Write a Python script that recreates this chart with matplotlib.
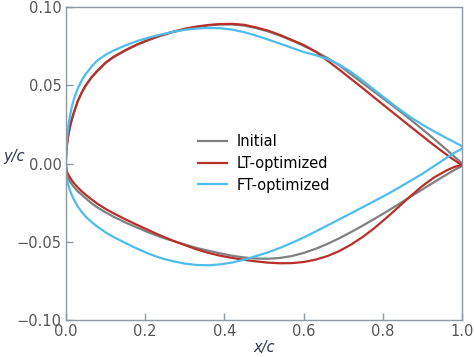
import matplotlib
matplotlib.use("Agg")
import matplotlib.pyplot as plt

x_pts = [0.0, 0.0005, 0.001, 0.002, 0.004, 0.007, 0.01, 0.015, 0.02, 0.03, 0.04, 0.05,
         0.065, 0.08, 0.1, 0.12, 0.15, 0.18, 0.21, 0.24, 0.27, 0.30, 0.33, 0.36,
         0.39, 0.42, 0.45, 0.48, 0.51, 0.54, 0.57, 0.60, 0.63, 0.66, 0.69, 0.72,
         0.75, 0.78, 0.81, 0.84, 0.87, 0.90, 0.93, 0.96, 0.98, 1.0]

init_upper = [0.0, 0.0047, 0.0069, 0.0101, 0.0145, 0.0192, 0.0230, 0.0281, 0.0322, 0.0397, 0.0452, 0.0497,
              0.0550, 0.0592, 0.0642, 0.0679, 0.0722, 0.0759, 0.0790, 0.0817, 0.0840, 0.0859, 0.0873, 0.0883,
              0.0889, 0.0889, 0.0882, 0.0866, 0.0845, 0.0818, 0.0788, 0.0752, 0.0716, 0.0675, 0.0628, 0.0570,
              0.0512, 0.0455, 0.0398, 0.0340, 0.0280, 0.0218, 0.0155, 0.0090, 0.0045, 0.0]
init_lower = [0.0, -0.0028, -0.0040, -0.0056, -0.0078, -0.0098, -0.0113, -0.0133, -0.0150, -0.0178, -0.0200, -0.0222,
              -0.0255, -0.0282, -0.0312, -0.0340, -0.0377, -0.0410, -0.0442, -0.0471, -0.0495, -0.0518, -0.0540, -0.0558,
              -0.0575, -0.0590, -0.0601, -0.0608, -0.0609, -0.0604, -0.0592, -0.0572, -0.0546, -0.0514, -0.0478, -0.0438,
              -0.0396, -0.0352, -0.0307, -0.0260, -0.0212, -0.0165, -0.0118, -0.0072, -0.0042, -0.0015]

lt_upper = [0.0, 0.0050, 0.0072, 0.0104, 0.0148, 0.0195, 0.0233, 0.0284, 0.0325, 0.0400, 0.0455, 0.0500,
            0.0553, 0.0595, 0.0645, 0.0682, 0.0725, 0.0762, 0.0793, 0.0820, 0.0843, 0.0862, 0.0876, 0.0886,
            0.0892, 0.0893, 0.0887, 0.0870, 0.0850, 0.0822, 0.0790, 0.0758, 0.0716, 0.0658, 0.0600, 0.0540,
            0.0480, 0.0418, 0.0357, 0.0296, 0.0235, 0.0175, 0.0115, 0.0058, 0.0022, -0.0010]
lt_lower = [0.0, -0.0020, -0.0030, -0.0043, -0.0060, -0.0075, -0.0088, -0.0108, -0.0125, -0.0153, -0.0178, -0.0200,
            -0.0230, -0.0258, -0.0290, -0.0318, -0.0357, -0.0393, -0.0428, -0.0462, -0.0493, -0.0522, -0.0549, -0.0572,
            -0.0590, -0.0604, -0.0616, -0.0626, -0.0634, -0.0638, -0.0637, -0.0630, -0.0615, -0.0592, -0.0560, -0.0518,
            -0.0468, -0.0410, -0.0345, -0.0277, -0.0208, -0.0143, -0.0088, -0.0045, -0.0022, -0.0010]

ft_upper = [0.0, 0.0068, 0.0095, 0.0135, 0.0190, 0.0255, 0.0300, 0.0362, 0.0410, 0.0480, 0.0532, 0.0572,
            0.0620, 0.0660, 0.0695, 0.0722, 0.0755, 0.0783, 0.0806, 0.0825, 0.0842, 0.0855, 0.0863, 0.0867,
            0.0865, 0.0856, 0.0840, 0.0818, 0.0793, 0.0767, 0.0740, 0.0713, 0.0693, 0.0668, 0.0632, 0.0585,
            0.0528, 0.0468, 0.0408, 0.0350, 0.0296, 0.0248, 0.0204, 0.0163, 0.0137, 0.0110]
ft_lower = [0.0, -0.0040, -0.0058, -0.0082, -0.0113, -0.0145, -0.0170, -0.0203, -0.0230, -0.0275, -0.0310, -0.0340,
            -0.0375, -0.0405, -0.0440, -0.0470, -0.0508, -0.0545, -0.0578, -0.0605, -0.0625, -0.0640, -0.0649, -0.0651,
            -0.0645, -0.0633, -0.0615, -0.0592, -0.0568, -0.0540, -0.0508, -0.0473, -0.0435, -0.0396, -0.0357, -0.0318,
            -0.0278, -0.0238, -0.0198, -0.0155, -0.0110, -0.0065, -0.0015, 0.0035, 0.0068, 0.0095]

labels = ["Initial", "LT-optimized", "FT-optimized"]
colors = ["#808080", "#b8302a", "#4dbdee"]

fig = plt.figure(figsize=(4.74, 3.57), dpi=100)
ax = fig.add_axes([0.139, 0.104, 0.836, 0.876])

series = [(init_upper, init_lower), (lt_upper, lt_lower), (ft_upper, ft_lower)]
for (up, lo), lab, col in zip(series, labels, colors):
    xs = x_pts[::-1] + x_pts[1:]
    ys = up[::-1] + lo[1:]
    ax.plot(xs, ys, color=col, lw=1.6, label=lab, solid_joinstyle='round')

ax.set_xlim(0, 1)
ax.set_ylim(-0.1, 0.1)
ax.set_xticks([0, 0.2, 0.4, 0.6, 0.8, 1.0])
ax.set_yticks([-0.1, -0.05, 0, 0.05, 0.1])
ax.set_xticklabels(["0.0", "0.2", "0.4", "0.6", "0.8", "1.0"])
ax.set_yticklabels(["\u22120.10", "\u22120.05", "0.00", "0.05", "0.10"])

spine_col = "#8d9aa6"
for s in ax.spines.values():
    s.set_color(spine_col)
    s.set_linewidth(1.0)
ax.tick_params(direction='in', length=5, width=1, color=spine_col,
               labelcolor="#555555", labelsize=10.5, pad=3)

ax.set_xlabel("x/c", fontsize=10.5, style='italic', color="#2b3455")
ax.set_ylabel("y/c", fontsize=10.5, style='italic', color="#2b3455", rotation=0)
ax.yaxis.set_label_coords(-0.13, 0.5)
ax.xaxis.set_label_coords(0.5, -0.065)

ax.legend(loc='center', frameon=False, fontsize=10.5, handlelength=2.0,
          handletextpad=0.7, labelspacing=0.45)

fig.savefig("out.png", dpi=100)
